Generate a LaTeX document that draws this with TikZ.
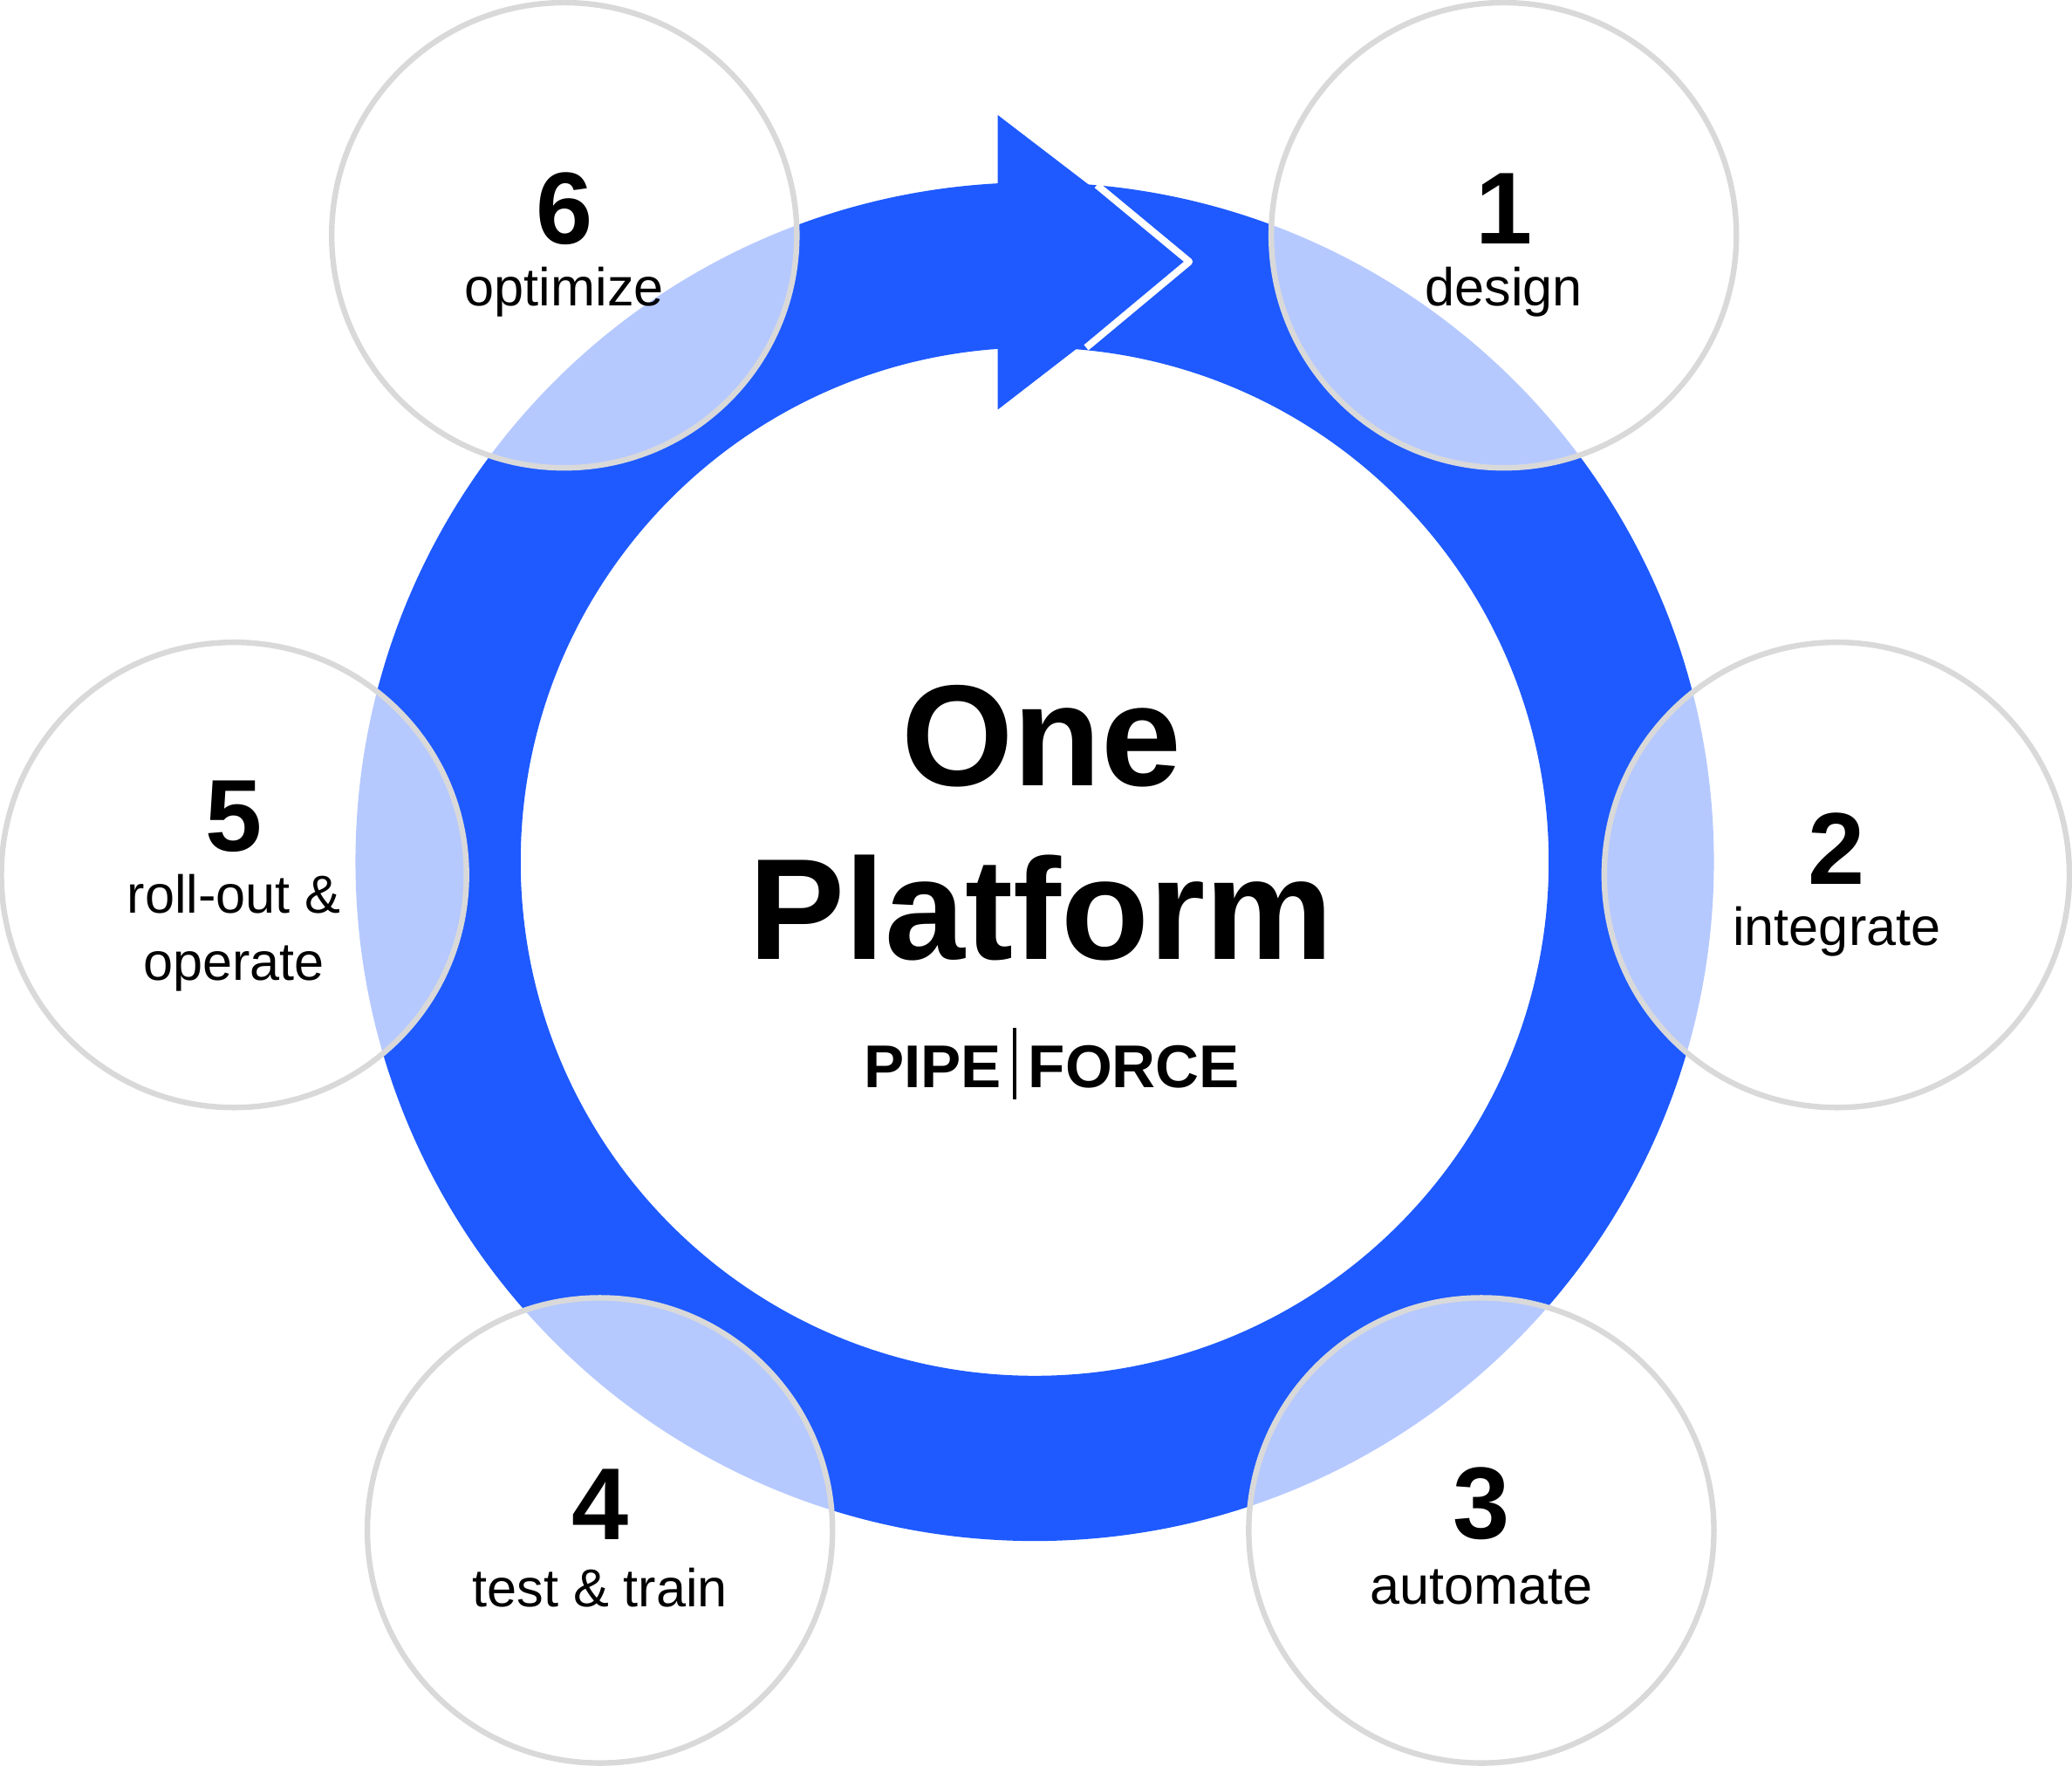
\documentclass[tikz,border=0pt]{standalone}
\usepackage{fontspec}
\setmainfont{Liberation Sans}
\definecolor{ringblue}{HTML}{1E5AFF}
\definecolor{rimgray}{HTML}{D9D9D9}
\tikzset{
  stage/.style={circle, draw=rimgray, line width=1.2pt, fill=white, fill opacity=0.68,
    text opacity=1, minimum size=3.52cm, inner sep=0pt},
  num/.style={font=\bfseries\fontsize{22}{24}\selectfont},
  lbl/.style={font=\fontsize{11.5}{13}\selectfont, align=center},
}
\begin{document}
\begin{tikzpicture}
    \useasboundingbox (0,0) rectangle (15.68,-13.36);

    % ring
    \coordinate (hub) at (7.83,-6.52);
    \fill[ringblue, even odd rule] (hub) circle (5.14) (hub) circle (3.89);

    % arrow head
    \coordinate (tailtop) at (7.55,-0.87);
    \coordinate (tip) at (9.00,-1.98);
    \coordinate (tailbot) at (7.55,-3.10);
    \fill[ringblue] (tailtop) -- (tip) -- (tailbot) -- cycle;
    \draw[white, line width=1.5pt, line join=round] (8.30,-1.40) -- (tip) -- (8.22,-2.63);

    % stages
    \node[stage] (s1) at (11.38,-1.78) {};
    \node[stage] (s2) at (13.90,-6.62) {};
    \node[stage] (s3) at (11.21,-11.58) {};
    \node[stage] (s4) at (4.54,-11.58) {};
    \node[stage] (s5) at (1.77,-6.62) {};
    \node[stage] (s6) at (4.27,-1.78) {};

    % stage texts
    \foreach \s/\n/\t in {s1/1/design, s2/2/integrate, s3/3/automate, s4/4/test \& train, s6/6/optimize}{
      \node[num] at ([yshift=2mm]\s) {\n};
      \node[lbl] at ([yshift=-4.3mm]\s) {\t};
    }
    \node[num] (n5) at ([yshift=4.4mm]s5) {5};
    \node[lbl] (t5) at ([yshift=-4.4mm]s5) {roll-out \&\\[0.5mm]operate};

    % center
    \node[font=\bfseries\fontsize{31}{33}\selectfont] (one) at (7.88,-5.57) {One};
    \node[font=\bfseries\fontsize{31}{33}\selectfont] (platform) at (7.88,-6.87) {Platform};
    \node[font=\bfseries\fontsize{13}{15}\selectfont, anchor=east, inner sep=1pt] (pipe) at (7.62,-8.07) {PIPE};
    \node[font=\bfseries\fontsize{13}{15}\selectfont, anchor=west, inner sep=1pt] (force) at (7.74,-8.07) {FORCE};
    \draw[line width=0.8pt] (7.68,-7.78) -- (7.68,-8.32);
\end{tikzpicture}
\end{document}
